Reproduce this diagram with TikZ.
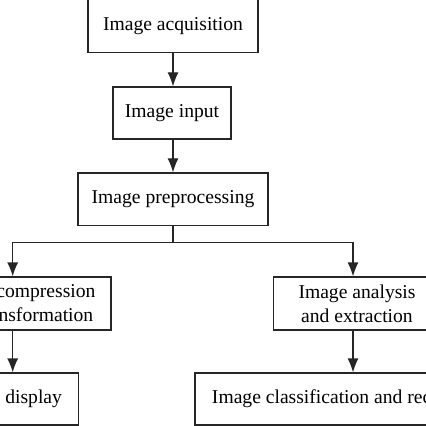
\documentclass[tikz,border=0pt]{standalone}
\usepackage{fontspec}
\setmainfont{Liberation Serif}
\usetikzlibrary{arrows.meta}
\tikzset{
	box/.style={draw=black!85, line width=0.6pt, inner sep=0pt, align=center,
		font=\fontsize{9.8}{12}\selectfont},
	flow/.style={draw=black!85, line width=0.6pt, -{Latex[length=7pt,width=5.5pt]}}
}

\begin{document}
\begin{tikzpicture}[x=0.5pt, y=-0.5pt]
		%%%%% START %%%%%
		
		\useasboundingbox (0, 0) rectangle (426, 426);
		\clip (0, 0) rectangle (426, 426);
		
		\node[box, minimum width=85pt, minimum height=26.5pt] (acq) at (173, 26) {Image acquisition};
		\node[box, minimum width=59pt, minimum height=26pt] (input) at (172, 113) {Image input};
		\node[box, minimum width=95pt, minimum height=26.4pt] (pre) at (173, 199.4) {Image preprocessing};
		
		\node[box, minimum width=92pt, minimum height=26.5pt] (comp) at (19, 303.5) {Image compression\\and transformation};
		\node[box, minimum width=83.7pt, minimum height=26.5pt] (ana) at (357, 303.5) {Image analysis\\and extraction};
		
		\node[box, minimum width=71.7pt, minimum height=26pt] (disp) at (6.7, 399) {Image display};
		\node[box, minimum width=159.3pt, minimum height=26pt] (cls) at (354.3, 399) {Image classification and recognition};
		
		\coordinate (lft) at (12.7, 242.7);
		\coordinate (rgt) at (353, 242.7);
		
		\draw[flow] (acq.south) -- (acq.south |- input.north);
		\draw[flow] (acq.south |- input.south) -- (acq.south |- pre.north);
		
		\draw[flow] (pre.south) |- (lft) -- (lft |- comp.north);
		\draw[flow] (pre.south) |- (rgt) -- (rgt |- ana.north);
		
		\draw[flow] (lft |- comp.south) -- (lft |- disp.north);
		\draw[flow] (rgt |- ana.south) -- (rgt |- cls.north);
		
		%%%%% END %%%%%
	\end{tikzpicture}
\end{document}
